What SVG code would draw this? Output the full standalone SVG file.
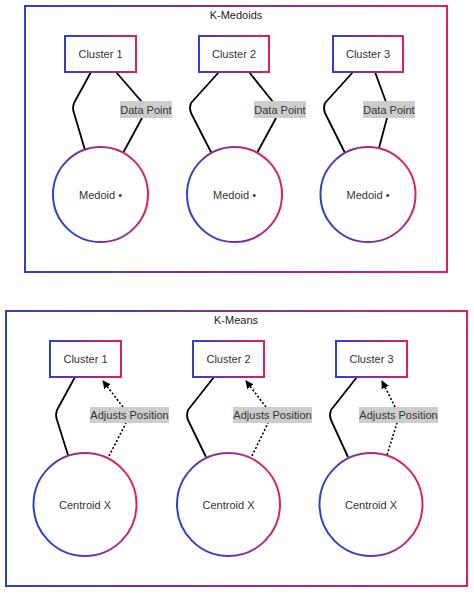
<svg xmlns="http://www.w3.org/2000/svg" width="474" height="594" viewBox="0 0 474 594">
<defs>
<linearGradient id="g" x1="0" y1="0" x2="1" y2="0">
<stop offset="0" stop-color="#2f3fd0"/>
<stop offset="1" stop-color="#e0205a"/>
</linearGradient>
<linearGradient id="gc" x1="0" y1="0.65" x2="1" y2="0.35">
<stop offset="0.1" stop-color="#2f3fd0"/>
<stop offset="0.9" stop-color="#e0205a"/>
</linearGradient>
<marker id="ah" viewBox="0 0 10 10" refX="9" refY="5" markerWidth="8" markerHeight="8" markerUnits="userSpaceOnUse" orient="auto">
<path d="M0,0 L10,5 L0,10 z" fill="#000"/>
</marker>
<style>
.frame{fill:#fff;stroke:url(#g);stroke-width:2}
.box{fill:#fff;stroke:url(#g);stroke-width:2}
.circ{fill:#fff;stroke:url(#gc);stroke-width:2}
.t{font-family:"Liberation Sans",Arial,sans-serif;font-size:11px;fill:#333;text-anchor:middle;dominant-baseline:central}
.title{font-family:"Liberation Sans",Arial,sans-serif;font-size:11px;fill:#222;text-anchor:middle;dominant-baseline:central}
.e{fill:none;stroke:#000;stroke-width:1.8;stroke-linejoin:round}
.d{fill:none;stroke:#000;stroke-width:1.6;stroke-dasharray:2,2}
.lb{fill:#c8c8c8;opacity:0.9}
</style>
</defs>
<rect width="474" height="594" fill="#fff"/>

<g id="kmedoids">
<rect class="frame" x="25" y="6" width="422" height="266"/>
<text class="title" x="236" y="15">K-Medoids</text>
</g>
<g id="kmeans">
<rect class="frame" x="6" y="311" width="461" height="275"/>
<text class="title" x="236" y="320">K-Means</text>
</g>

<g id="connectors">
<path class="e" d="M91,72 L74,103 Q72,108 74,113 L85,150"/>
<path class="e" d="M116,72 L142,102"/>
<path class="e" d="M142,118 L123,153"/>
<path class="e" d="M219,72 L191,103 Q189,108 191,113 L212,154"/>
<path class="e" d="M249,72 L273,102"/>
<path class="e" d="M276,118 L257,153"/>
<path class="e" d="M353,72 L325,103 Q323,108 325,113 L345,153"/>
<path class="e" d="M375,72 L386,102"/>
<path class="e" d="M387,118 L379,148"/>

<path class="e" d="M75,377 L57,410 Q55,415 57,420 L68,455"/>
<path class="d" d="M109,456 L126,423"/>
<path class="d" d="M123,407 L103,381" marker-end="url(#ah)"/>
<path class="e" d="M214,377 L188,410 Q186,415 188,420 L206,457"/>
<path class="d" d="M252,456 L268,423"/>
<path class="d" d="M266,407 L246,381" marker-end="url(#ah)"/>
<path class="e" d="M357,377 L331,410 Q329,415 331,420 L348,457"/>
<path class="d" d="M387,455 L397,423"/>
<path class="d" d="M395,407 L382,381" marker-end="url(#ah)"/>
</g>

<g id="edge-labels">
<rect class="lb" x="120" y="101" width="52" height="17"/>
<text class="t" x="146" y="109.5">Data Point</text>
<rect class="lb" x="254" y="101" width="52" height="17"/>
<text class="t" x="280" y="109.5">Data Point</text>
<rect class="lb" x="363" y="101" width="52" height="17"/>
<text class="t" x="389" y="109.5">Data Point</text>
<rect class="lb" x="90" y="407" width="79" height="16"/>
<text class="t" x="129.5" y="415">Adjusts Position</text>
<rect class="lb" x="233" y="407" width="79" height="16"/>
<text class="t" x="272.5" y="415">Adjusts Position</text>
<rect class="lb" x="359" y="407" width="79" height="16"/>
<text class="t" x="398.5" y="415">Adjusts Position</text>
</g>

<g id="medoid-cluster1"><rect class="box" x="65" y="36" width="71" height="36"/><text class="t" x="100.5" y="54">Cluster 1</text></g>
<g id="medoid-cluster2"><rect class="box" x="199" y="36" width="70" height="36"/><text class="t" x="234" y="54">Cluster 2</text></g>
<g id="medoid-cluster3"><rect class="box" x="333" y="36" width="70" height="36"/><text class="t" x="368" y="54">Cluster 3</text></g>
<g id="medoid1"><circle class="circ" cx="100.5" cy="194.5" r="47.5"/><text class="t" x="100.5" y="194.5">Medoid •</text></g>
<g id="medoid2"><circle class="circ" cx="234.5" cy="194.5" r="47.5"/><text class="t" x="234.5" y="194.5">Medoid •</text></g>
<g id="medoid3"><circle class="circ" cx="368" cy="194.5" r="47.5"/><text class="t" x="368" y="194.5">Medoid •</text></g>

<g id="means-cluster1"><rect class="box" x="50" y="341" width="71" height="36"/><text class="t" x="85.5" y="359">Cluster 1</text></g>
<g id="means-cluster2"><rect class="box" x="193" y="341" width="71" height="36"/><text class="t" x="228.5" y="359">Cluster 2</text></g>
<g id="means-cluster3"><rect class="box" x="336" y="341" width="71" height="36"/><text class="t" x="371.5" y="359">Cluster 3</text></g>
<g id="centroid1"><circle class="circ" cx="85" cy="504.5" r="51.5"/><text class="t" x="85" y="504.5">Centroid X</text></g>
<g id="centroid2"><circle class="circ" cx="228.5" cy="504.5" r="51.5"/><text class="t" x="228.5" y="504.5">Centroid X</text></g>
<g id="centroid3"><circle class="circ" cx="371" cy="504.5" r="51.5"/><text class="t" x="371" y="504.5">Centroid X</text></g>
</svg>
